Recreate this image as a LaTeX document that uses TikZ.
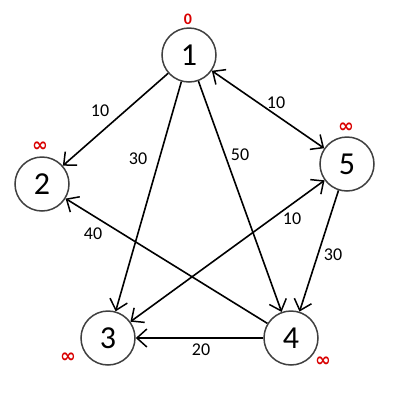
\documentclass[tikz,border=0pt]{standalone}
\usepackage{fontspec}
\setmainfont{Carlito}
\newfontfamily\symfont{DejaVu Sans}
\usetikzlibrary{arrows.meta}
\begin{document}
\begin{tikzpicture}[x=1pt,y=-1pt,
  vert/.style={circle,draw=black!75,line width=1.5pt,minimum size=54pt,inner sep=0pt,font=\fontsize{32}{34}\selectfont},
  tip/.tip={Straight Barb[length=10pt,width=18pt,line width=1.5pt]},
  arr/.style={line width=1.6pt,-tip},
  darr/.style={line width=1.6pt,tip-tip},
  wt/.style={font=\fontsize{18}{20}\selectfont,inner sep=1pt},
  dist/.style={text=red!85!black,font=\fontsize{16}{16}\selectfont\bfseries,inner sep=0pt},
  inf/.style={text=red!85!black,font=\symfont\bfseries\fontsize{19}{19}\selectfont,inner sep=0pt}]
\useasboundingbox (0,0) rectangle (400,400);
\node[vert] (1) at (189,55) {1};
\node[vert] (2) at (42,184) {2};
\node[vert] (5) at (347,164) {5};
\node[vert] (3) at (108,338) {3};
\node[vert] (4) at (291,338) {4};
\draw[arr] (1) -- (2);
\draw[arr] (1) -- (3);
\draw[arr] (1) -- (4);
\draw[darr] (1) -- (5);
\draw[darr] (3) -- (5);
\draw[arr] (5) -- (4);
\draw[arr] (4) -- (2);
\draw[arr] (4) -- (3);
\node[wt] (w12) at (100,111) {10};
\node[wt] (w13) at (138,159) {30};
\node[wt] (w14) at (240,155) {50};
\node[wt] (w15) at (276,103) {10};
\node[wt] (w35) at (292,219) {10};
\node[wt] (w54) at (333,255) {30};
\node[wt] (w42) at (93,234) {40};
\node[wt] (w43) at (201,350) {20};
\node[dist] (d1) at (188,19) {0};
\node[inf] (d2) at (40,147) {∞};
\node[inf] (d5) at (346,128) {∞};
\node[inf] (d3) at (68,358) {∞};
\node[inf] (d4) at (323,362) {∞};
\end{tikzpicture}
\end{document}
